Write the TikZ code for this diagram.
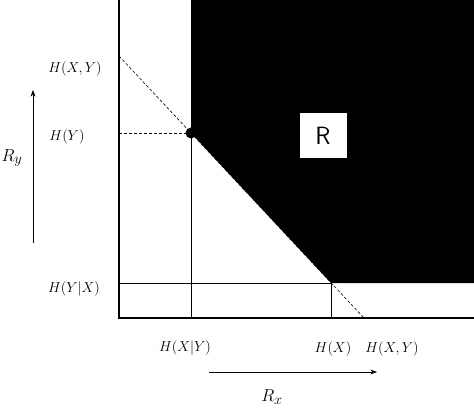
\documentclass[tikz,border=0pt]{standalone}
\usepackage{tikz}
\usetikzlibrary{arrows.meta,positioning,calc}

\begin{document}
\begin{tikzpicture}[
    x=1pt, y=-1pt,
    >=Stealth,
    axisline/.style={line width=1.6pt},
    guide/.style={line width=0.6pt},
    dashguide/.style={line width=0.6pt, dash pattern=on 3pt off 2pt},
    ratearr/.style={->, line width=0.8pt},
    annot/.style={font=\fontsize{14.5}{17}\selectfont},
    ratename/.style={font=\fontsize{19}{22}\selectfont},
]
\useasboundingbox (0,0) rectangle (474,409);

% === Key points ===
\coordinate (ytop)    at (119,0);
\coordinate (origin)  at (119,318);
\coordinate (xend)    at (474,318);
\coordinate (corner)  at (191,133);
\coordinate (knee)    at (331,283);
\coordinate (hxyy)    at (119,56);
\coordinate (hxyx)    at (364,318);
\coordinate (hy)      at (119,133);
\coordinate (hyx)     at (119,283);
\coordinate (hxy)     at (191,318);
\coordinate (hx)      at (331,318);

% === Achievable region ===
\fill (191,0) -- (474,0) -- (474,283) -- (knee) -- (corner) -- cycle;
\node[fill=white, minimum width=47pt, minimum height=45pt,
    font=\sffamily\fontsize{25}{28}\selectfont] (region) at (323,136) {R};

% Guide lines
\draw[dashguide] (hxyy) -- (hxyx);
\draw[dashguide] (hy) -- (corner);
\draw[guide] (corner) -- (hxy);
\draw[guide] (hyx) -- (knee) -- (hx);

% Axes
\draw[axisline] (ytop) -- (origin) -- (xend);

% Corner point
\node[circle, fill, inner sep=0pt, minimum size=11pt] (pt) at (corner) {};

% === Axis labels ===
\node[annot] (lhxyy) at (75,69)  {$H(X,Y)$};
\node[annot] (lhy)   at (67,137) {$H(Y)$};
\node[annot] (lhyx)  at (74,289) {$H(Y|X)$};

\node[annot] (lhxy)  at (185,348) {$H(X|Y)$};
\node[annot] (lhx)   at (333,349) {$H(X)$};
\node[annot] (lhxyx) at (392,349) {$H(X,Y)$};

% Rate arrows
\coordinate (rylow) at (33,243);
\coordinate (ryhigh) at (33,90);
\draw[ratearr] (rylow) -- (ryhigh);
\node[ratename] (ry) at (12,158) {$R_y$};

\coordinate (rxlow) at (209,372);
\coordinate (rxhigh) at (377,372);
\draw[ratearr] (rxlow) -- (rxhigh);
\node[ratename] (rx) at (272,397) {$R_x$};

\end{tikzpicture}
\end{document}
